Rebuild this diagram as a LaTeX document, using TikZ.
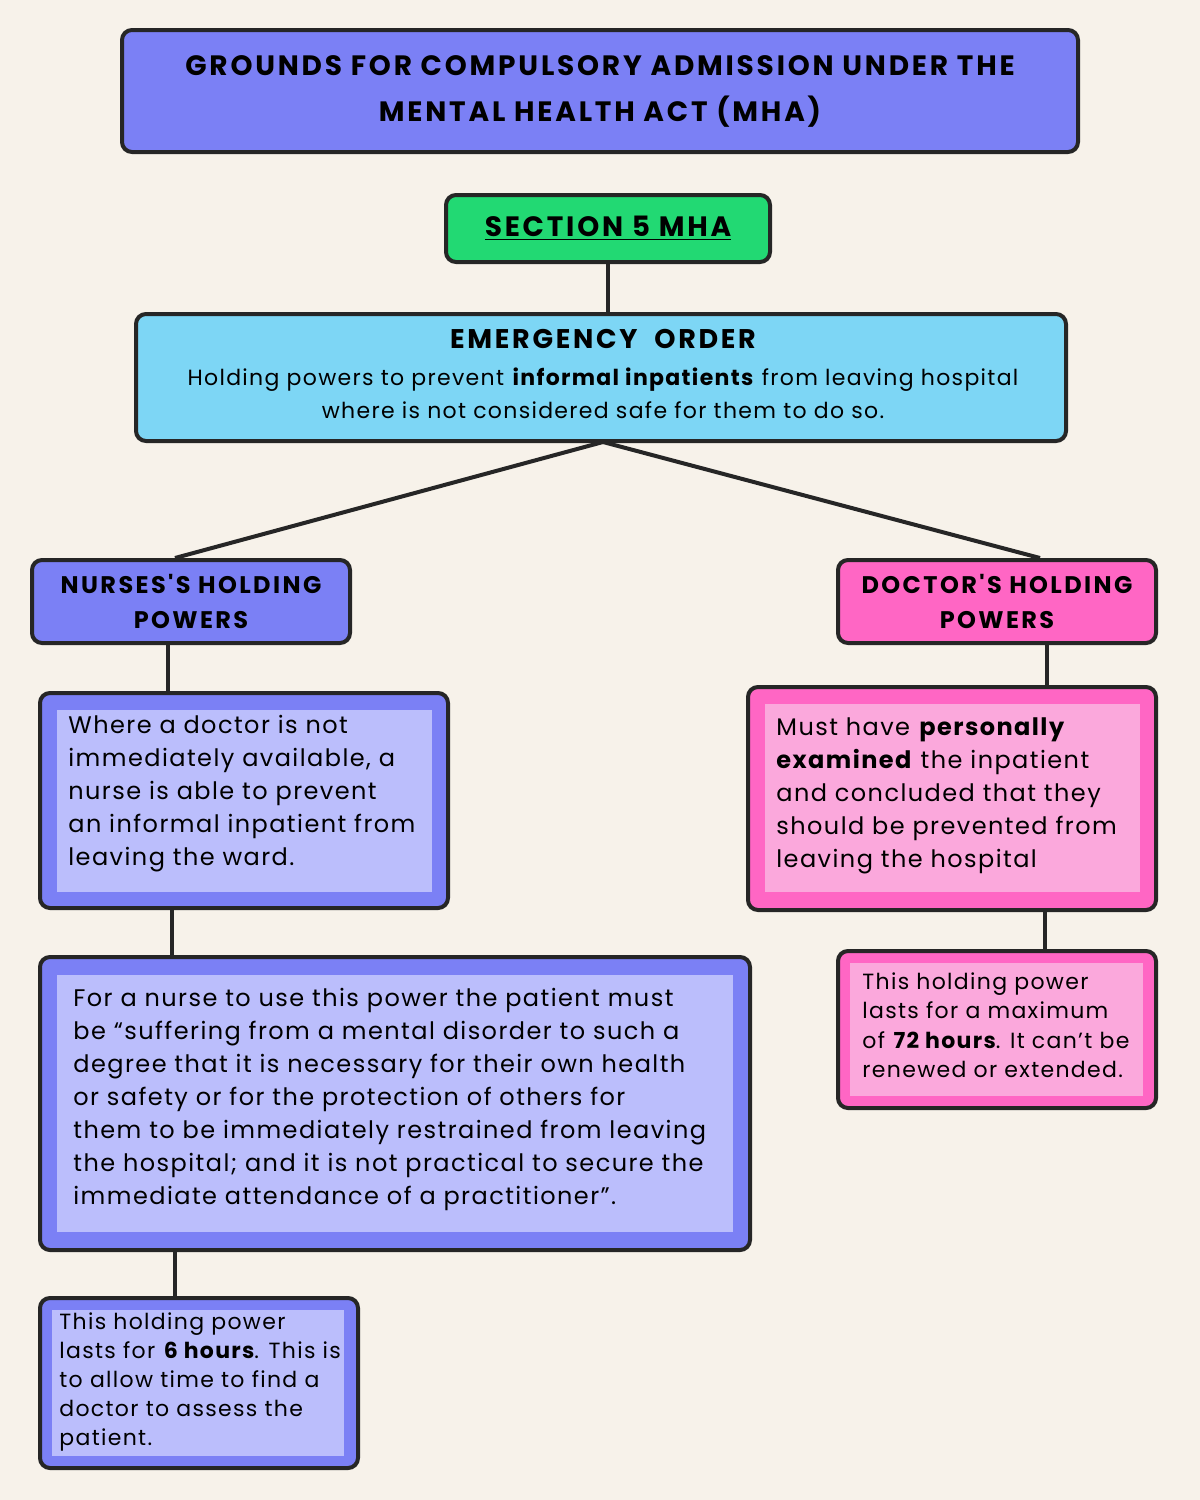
\documentclass[tikz,border=0pt]{standalone}
\usepackage{fontspec}
\setmainfont{Poppins}[LetterSpace=6]
\newfontfamily\hd{Poppins}[LetterSpace=10]
\definecolor{bg}{HTML}{F7F2EA}
\definecolor{peri}{HTML}{7B80F5}
\definecolor{perilt}{HTML}{BBBEFC}
\definecolor{grn}{HTML}{22D973}
\definecolor{sky}{HTML}{7DD6F5}
\definecolor{pnk}{HTML}{FF66C4}
\definecolor{pnklt}{HTML}{FBA8DC}
\tikzset{
 box/.style={draw=black!85,line width=2pt,rounded corners=5pt,inner sep=0pt,align=center},
 inner/.style={inner sep=0pt,align=left},
 conn/.style={line width=2pt,black!85}
}
\begin{document}
\begin{tikzpicture}[x=0.5pt,y=-0.5pt]
\fill[bg] (0,0) rectangle (1200,1500);
\useasboundingbox (0,0) rectangle (1200,1500);
% title
\node[box,fill=peri,minimum width=478pt,minimum height=61pt,font=\hd\fontsize{14}{23}\selectfont\bfseries] (title) at (600,91)
 {GROUNDS FOR COMPULSORY ADMISSION UNDER THE\\ MENTAL HEALTH ACT (MHA)};
\node[box,fill=grn,minimum width=162pt,minimum height=33.5pt,font=\hd\fontsize{14}{17}\selectfont\bfseries] (s5) at (608,228.5)
 {\underline{SECTION 5 MHA}};
\node[box,fill=sky,minimum width=465pt,minimum height=63.5pt] (em) at (601,377.5) {};
\node[inner,align=center,font=\fontsize{11}{16.5}\selectfont] (emt) at (603,374)
 {{\hd\fontsize{13.5}{18}\selectfont\bfseries EMERGENCY\ \ ORDER}\\[2pt]
 Holding powers to prevent \textbf{informal inpatients} from leaving hospital\\
 where is not considered safe for them to do so.};
\draw[conn] (s5.south) -- (s5.south|-em.north);
% nurses
\node[box,fill=peri,minimum width=159pt,minimum height=41.5pt,font=\hd\fontsize{12}{17.5}\selectfont\bfseries] (nh) at (191,601.5)
 {NURSES'S HOLDING\\ POWERS};
\node[box,fill=pnk,minimum width=159pt,minimum height=41.5pt,font=\hd\fontsize{12}{17.5}\selectfont\bfseries] (dh) at (997,601.5)
 {DOCTOR'S HOLDING\\ POWERS};
\coordinate (top) at (603,442);
\draw[conn] (top) -- (175,558);
\draw[conn] (top) -- (1040,558);
% nurse text
\node[box,fill=peri,minimum width=204pt,minimum height=107.5pt] (n1) at (244,800.5) {};
\fill[perilt] (57,710) rectangle (432,892);
\node[inner,anchor=north west,font=\fontsize{12}{16.5}\selectfont] (n1t) at (68,715)
 {Where a doctor is not\\ immediately available, a\\ nurse is able to prevent\\ an informal inpatient from\\ leaving the ward.};
\draw[conn] (168,643) -- (168,693);
\node[box,fill=peri,minimum width=355pt,minimum height=146.5pt] (n2) at (395,1103.5) {};
\fill[perilt] (57,975) rectangle (733,1232);
\node[inner,anchor=north west,font=\fontsize{12}{16.5}\selectfont] (n2t) at (73,988)
 {For a nurse to use this power the patient must\\ be “suffering from a mental disorder to such a\\ degree that it is necessary for their own health\\ or safety or for the protection of others for\\ them to be immediately restrained from leaving\\ the hospital; and it is not practical to secure the\\ immediate attendance of a practitioner".};
\draw[conn] (172,908) -- (172,957);
\node[box,fill=peri,minimum width=159pt,minimum height=85pt] (n3) at (199,1383) {};
\fill[perilt] (52,1310) rectangle (344,1456);
\node[inner,anchor=north west,font=\fontsize{11}{14.5}\selectfont] (n3t) at (59,1312)
 {This holding power\\ lasts for \textbf{6 hours}. This is\\ to allow time to find a\\ doctor to assess the\\ patient.};
\draw[conn] (175,1250) -- (175,1298);
% doctor
\node[box,fill=pnk,minimum width=204pt,minimum height=111.5pt] (d1) at (952,798.5) {};
\fill[pnklt] (765,704) rectangle (1140,892);
\node[inner,anchor=north west,font=\fontsize{12}{16.5}\selectfont] (d1t) at (776,717)
 {Must have \textbf{personally}\\ \textbf{examined} the inpatient\\ and concluded that they\\ should be prevented from\\ leaving the hospital};
\draw[conn] (1047,643) -- (1047,687);
\node[box,fill=pnk,minimum width=159pt,minimum height=78.5pt] (d2) at (997,1029.5) {};
\fill[pnklt] (850,963) rectangle (1143,1096);
\node[inner,anchor=north west,font=\fontsize{11}{14.8}\selectfont] (d2t) at (862,972)
 {This holding power\\ lasts for a maximum\\ of \textbf{72 hours}. It can't be\\ renewed or extended.};
\draw[conn] (1045,910) -- (1045,951);
\end{tikzpicture}
\end{document}
